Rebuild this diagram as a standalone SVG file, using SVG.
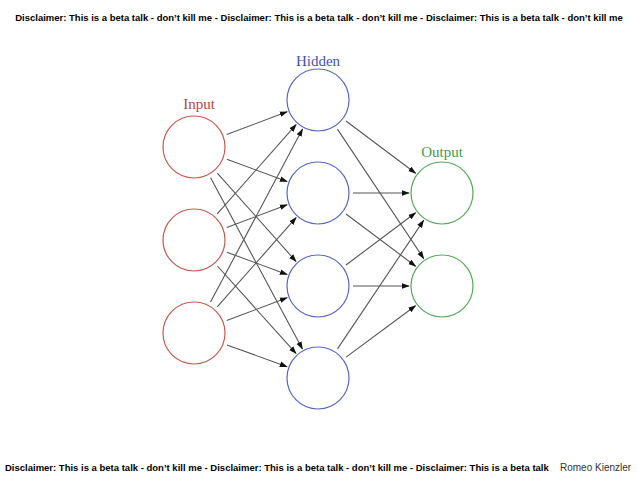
<svg xmlns="http://www.w3.org/2000/svg" width="638" height="479" viewBox="0 0 638 479">
<style>
.n{fill:none;stroke-width:1.2}
.i{stroke:#c8594f}.h{stroke:#5566c4}.o{stroke:#55a85a}
.lb{font-family:"Liberation Serif",serif;font-size:15px;text-anchor:middle}
.d{font-family:"Liberation Sans",Arial,sans-serif;font-size:9.5px;font-weight:bold;fill:#000}
#edges line{stroke:#555;stroke-width:1.1;marker-end:url(#a)}
</style>
<defs><marker id="a" viewBox="0 0 10 10" refX="9" refY="5" markerWidth="8" markerHeight="8" markerUnits="userSpaceOnUse" orient="auto"><path d="M0,1.5L10,5L0,8.5z" fill="#111"/></marker></defs>
<rect width="638" height="479" fill="#fff"/>
<text class="d" x="319" y="21" text-anchor="middle">Disclaimer: This is a beta talk - don’t kill me - Disclaimer: This is a beta talk - don’t kill me - Disclaimer: This is a beta talk - don’t kill me</text>
<text class="d" x="5" y="471">Disclaimer: This is a beta talk - don’t kill me - Disclaimer: This is a beta talk - don’t kill me - Disclaimer: This is a beta talk</text>
<text x="560" y="471" style="font-family:'Liberation Sans',Arial,sans-serif;font-size:10px;fill:#333">Romeo Kienzler</text>
<text class="lb" x="199" y="109" fill="#b5463c">Input</text>
<text class="lb" x="318" y="66" fill="#3f52b8">Hidden</text>
<text class="lb" x="442" y="157" fill="#449a48">Output</text>
<g id="input"><circle id="i1" class="n i" cx="194" cy="147" r="31"/><circle id="i2" class="n i" cx="194" cy="240" r="31"/><circle id="i3" class="n i" cx="194" cy="333" r="31"/></g>
<g id="hidden"><circle id="h1" class="n h" cx="318" cy="100" r="31"/><circle id="h2" class="n h" cx="318" cy="193" r="31"/><circle id="h3" class="n h" cx="318" cy="286" r="31"/><circle id="h4" class="n h" cx="318" cy="378" r="31"/></g>
<g id="output"><circle id="o1" class="n o" cx="442" cy="193" r="31"/><circle id="o2" class="n o" cx="442" cy="286" r="31"/></g>
<g id="edges">
<line x1="226.7" y1="134.6" x2="287.1" y2="111.7"/>
<line x1="226.8" y1="159.2" x2="287.1" y2="181.5"/>
<line x1="217.3" y1="173.1" x2="296" y2="261.4"/>
<line x1="210.6" y1="177.8" x2="302.4" y2="348.9"/>
<line x1="217.2" y1="213.8" x2="296.1" y2="124.7"/>
<line x1="226.7" y1="227.6" x2="287.1" y2="204.7"/>
<line x1="226.8" y1="252.2" x2="287.1" y2="274.5"/>
<line x1="217.4" y1="266" x2="296" y2="353.4"/>
<line x1="210.5" y1="302.1" x2="302.5" y2="129.1"/>
<line x1="217.2" y1="306.8" x2="296.1" y2="217.7"/>
<line x1="226.7" y1="320.6" x2="287.1" y2="297.7"/>
<line x1="226.9" y1="344.9" x2="287" y2="366.7"/>
<line x1="346" y1="121" x2="415.6" y2="173.2"/>
<line x1="337.4" y1="129.1" x2="423.7" y2="258.5"/>
<line x1="353" y1="193" x2="409" y2="193"/>
<line x1="346" y1="214" x2="415.6" y2="266.2"/>
<line x1="346" y1="265" x2="415.6" y2="212.8"/>
<line x1="353" y1="286" x2="409" y2="286"/>
<line x1="337.5" y1="348.9" x2="423.6" y2="220.4"/>
<line x1="346.1" y1="357.1" x2="415.5" y2="305.7"/>
</g>
</svg>
